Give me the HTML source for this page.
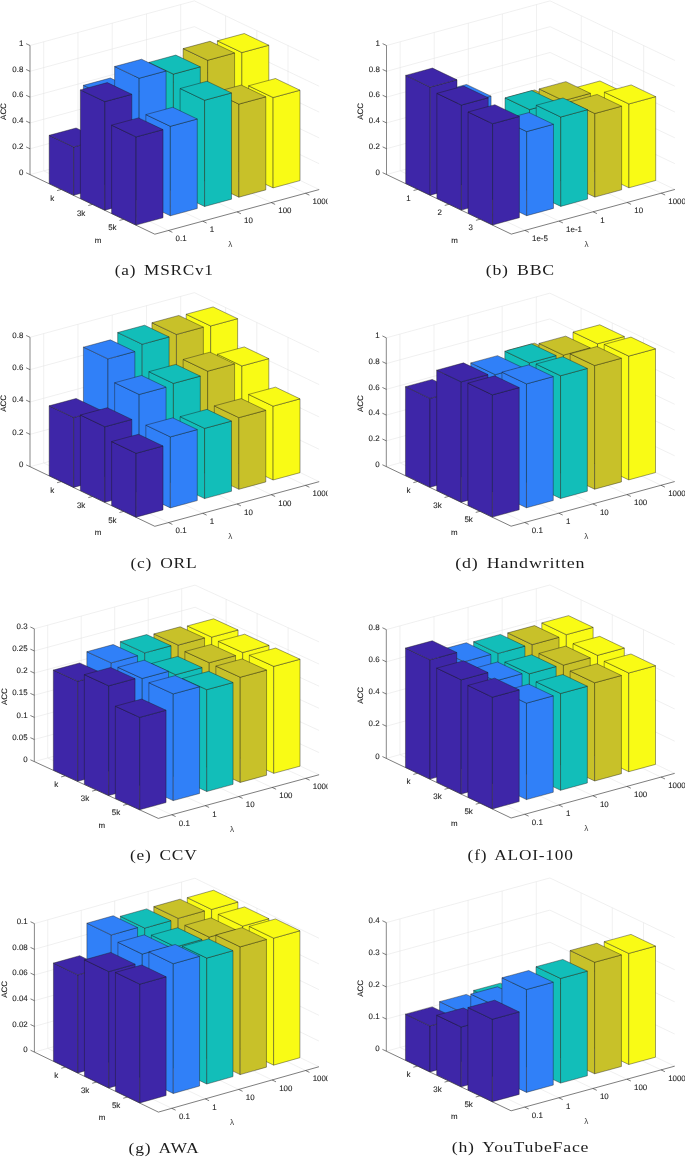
<!DOCTYPE html>
<html><head><meta charset="utf-8"><title>Figure</title>
<style>html,body{margin:0;padding:0;background:#fff}svg{display:block}</style></head>
<body><svg width="685" height="1157" viewBox="0 0 685 1157">
<defs><clipPath id="lc"><rect x="0" y="0" width="327.6" height="1157"/></clipPath></defs>
<rect width="685" height="1157" fill="#fff"/>
<g clip-path="url(#lc)"><g stroke="#e1e1e1" stroke-width="0.5"><line x1="43.7" y1="170.88" x2="168.5" y2="230.48"/><line x1="43.7" y1="170.88" x2="43.7" y2="41.78"/><line x1="77.95" y1="161.58" x2="202.75" y2="221.18"/><line x1="77.95" y1="161.58" x2="77.95" y2="32.48"/><line x1="112.2" y1="152.28" x2="237" y2="211.88"/><line x1="112.2" y1="152.28" x2="112.2" y2="23.18"/><line x1="146.45" y1="142.98" x2="271.25" y2="202.58"/><line x1="146.45" y1="142.98" x2="146.45" y2="13.88"/><line x1="180.7" y1="133.68" x2="305.5" y2="193.28"/><line x1="180.7" y1="133.68" x2="180.7" y2="4.58"/><line x1="61.2" y1="189.5" x2="225.6" y2="144.86"/><line x1="225.6" y1="144.86" x2="225.6" y2="15.76"/><line x1="92.4" y1="204.4" x2="256.8" y2="159.76"/><line x1="256.8" y1="159.76" x2="256.8" y2="30.66"/><line x1="123.6" y1="219.3" x2="288" y2="174.66"/><line x1="288" y1="174.66" x2="288" y2="45.56"/><line x1="30" y1="174.6" x2="194.4" y2="129.96"/><line x1="194.4" y1="129.96" x2="319.2" y2="189.56"/><line x1="30" y1="148.78" x2="194.4" y2="104.14"/><line x1="194.4" y1="104.14" x2="319.2" y2="163.74"/><line x1="30" y1="122.96" x2="194.4" y2="78.32"/><line x1="194.4" y1="78.32" x2="319.2" y2="137.92"/><line x1="30" y1="97.14" x2="194.4" y2="52.5"/><line x1="194.4" y1="52.5" x2="319.2" y2="112.1"/><line x1="30" y1="71.32" x2="194.4" y2="26.68"/><line x1="194.4" y1="26.68" x2="319.2" y2="86.28"/><line x1="30" y1="45.5" x2="194.4" y2="0.86"/><line x1="194.4" y1="0.86" x2="319.2" y2="60.46"/></g>
<g stroke="#262626" stroke-width="0.5"><line x1="30" y1="174.6" x2="30" y2="45.5" stroke-width="0.55"/><line x1="30" y1="174.6" x2="154.8" y2="234.2" stroke-width="0.6"/><line x1="154.8" y1="234.2" x2="319.2" y2="189.56" stroke-width="0.6"/><line x1="30" y1="174.6" x2="26.12" y2="172.75" stroke-width="0.6"/><line x1="30" y1="148.78" x2="26.12" y2="146.93" stroke-width="0.6"/><line x1="30" y1="122.96" x2="26.12" y2="121.11" stroke-width="0.6"/><line x1="30" y1="97.14" x2="26.12" y2="95.29" stroke-width="0.6"/><line x1="30" y1="71.32" x2="26.12" y2="69.47" stroke-width="0.6"/><line x1="30" y1="45.5" x2="26.12" y2="43.65" stroke-width="0.6"/><line x1="61.2" y1="189.5" x2="57.05" y2="190.63" stroke-width="0.6"/><line x1="92.4" y1="204.4" x2="88.25" y2="205.53" stroke-width="0.6"/><line x1="123.6" y1="219.3" x2="119.45" y2="220.43" stroke-width="0.6"/><line x1="168.5" y1="230.48" x2="172.38" y2="232.33" stroke-width="0.6"/><line x1="202.75" y1="221.18" x2="206.63" y2="223.03" stroke-width="0.6"/><line x1="237" y1="211.88" x2="240.88" y2="213.73" stroke-width="0.6"/><line x1="271.25" y1="202.58" x2="275.13" y2="204.43" stroke-width="0.6"/><line x1="305.5" y1="193.28" x2="309.38" y2="195.13" stroke-width="0.6"/></g>
<g stroke="#1a1a1a" stroke-width="0.42" stroke-linejoin="round"><polygon fill="#F9FB15" points="186.18,146.38 210.7,158.09 210.7,74.18 186.18,62.46"/><polygon fill="#F9FB15" points="210.7,158.09 237.62,150.78 237.62,66.87 210.7,74.18"/><polygon fill="#F9FB15" points="186.18,62.46 210.7,74.18 237.62,66.87 213.1,55.15"/><polygon fill="#C8C129" points="151.93,155.68 176.45,167.39 176.45,83.48 151.93,71.76"/><polygon fill="#C8C129" points="176.45,167.39 203.37,160.08 203.37,76.17 176.45,83.48"/><polygon fill="#C8C129" points="151.93,71.76 176.45,83.48 203.37,76.17 178.85,64.45"/><polygon fill="#12BEB9" points="117.68,164.98 142.2,176.69 142.2,92.78 117.68,81.06"/><polygon fill="#12BEB9" points="142.2,176.69 169.12,169.38 169.12,85.47 142.2,92.78"/><polygon fill="#12BEB9" points="117.68,81.06 142.2,92.78 169.12,85.47 144.6,73.75"/><polygon fill="#3080F8" points="83.43,174.28 107.95,185.99 107.95,97.04 83.43,85.33"/><polygon fill="#3080F8" points="107.95,185.99 134.87,178.68 134.87,89.73 107.95,97.04"/><polygon fill="#3080F8" points="83.43,85.33 107.95,97.04 134.87,89.73 110.35,78.02"/><polygon fill="#3E26A8" points="49.18,183.58 73.7,195.29 73.7,147.01 49.18,135.3"/><polygon fill="#3E26A8" points="73.7,195.29 100.62,187.98 100.62,139.7 73.7,147.01"/><polygon fill="#3E26A8" points="49.18,135.3 73.7,147.01 100.62,139.7 76.1,127.99"/><polygon fill="#F9FB15" points="217.38,161.28 241.9,172.99 241.9,52.54 217.38,40.83"/><polygon fill="#F9FB15" points="241.9,172.99 268.82,165.68 268.82,45.23 241.9,52.54"/><polygon fill="#F9FB15" points="217.38,40.83 241.9,52.54 268.82,45.23 244.3,33.52"/><polygon fill="#C8C129" points="183.13,170.58 207.65,182.29 207.65,60.29 183.13,48.58"/><polygon fill="#C8C129" points="207.65,182.29 234.57,174.98 234.57,52.98 207.65,60.29"/><polygon fill="#C8C129" points="183.13,48.58 207.65,60.29 234.57,52.98 210.05,41.27"/><polygon fill="#12BEB9" points="148.88,179.88 173.4,191.59 173.4,74.11 148.88,62.4"/><polygon fill="#12BEB9" points="173.4,191.59 200.32,184.28 200.32,66.8 173.4,74.11"/><polygon fill="#12BEB9" points="148.88,62.4 173.4,74.11 200.32,66.8 175.8,55.09"/><polygon fill="#3080F8" points="114.63,189.18 139.15,200.89 139.15,78.25 114.63,66.53"/><polygon fill="#3080F8" points="139.15,200.89 166.07,193.58 166.07,70.94 139.15,78.25"/><polygon fill="#3080F8" points="114.63,66.53 139.15,78.25 166.07,70.94 141.55,59.22"/><polygon fill="#3E26A8" points="80.38,198.48 104.9,210.19 104.9,101.62 80.38,89.91"/><polygon fill="#3E26A8" points="104.9,210.19 131.82,202.88 131.82,94.31 104.9,101.62"/><polygon fill="#3E26A8" points="80.38,89.91 104.9,101.62 131.82,94.31 107.3,82.6"/><polygon fill="#F9FB15" points="248.58,176.18 273.1,187.89 273.1,97.52 248.58,85.81"/><polygon fill="#F9FB15" points="273.1,187.89 300.02,180.58 300.02,90.21 273.1,97.52"/><polygon fill="#F9FB15" points="248.58,85.81 273.1,97.52 300.02,90.21 275.5,78.5"/><polygon fill="#C8C129" points="214.33,185.48 238.85,197.19 238.85,104.11 214.33,92.4"/><polygon fill="#C8C129" points="238.85,197.19 265.77,189.88 265.77,96.8 238.85,104.11"/><polygon fill="#C8C129" points="214.33,92.4 238.85,104.11 265.77,96.8 241.25,85.09"/><polygon fill="#12BEB9" points="180.08,194.78 204.6,206.49 204.6,100.24 180.08,88.53"/><polygon fill="#12BEB9" points="204.6,206.49 231.52,199.18 231.52,92.93 204.6,100.24"/><polygon fill="#12BEB9" points="180.08,88.53 204.6,100.24 231.52,92.93 207,81.22"/><polygon fill="#3080F8" points="145.83,204.08 170.35,215.79 170.35,126.32 145.83,114.61"/><polygon fill="#3080F8" points="170.35,215.79 197.27,208.48 197.27,119.01 170.35,126.32"/><polygon fill="#3080F8" points="145.83,114.61 170.35,126.32 197.27,119.01 172.75,107.3"/><polygon fill="#3E26A8" points="111.58,213.38 136.1,225.09 136.1,136.92 111.58,125.2"/><polygon fill="#3E26A8" points="136.1,225.09 163.02,217.78 163.02,129.61 136.1,136.92"/><polygon fill="#3E26A8" points="111.58,125.2 136.1,136.92 163.02,129.61 138.5,117.89"/></g>
<g font-family="'Liberation Sans',sans-serif" font-size="7.9" fill="#222" stroke="#222" stroke-width="0.1" text-rendering="geometricPrecision"><text x="23.3" y="174.8" text-anchor="end">0</text><text x="23.3" y="148.98" text-anchor="end">0.2</text><text x="23.3" y="123.16" text-anchor="end">0.4</text><text x="23.3" y="97.34" text-anchor="end">0.6</text><text x="23.3" y="71.52" text-anchor="end">0.8</text><text x="23.3" y="45.7" text-anchor="end">1</text><text x="54.1" y="200.6" text-anchor="end">k</text><text x="85.3" y="215.5" text-anchor="end">3k</text><text x="116.5" y="230.4" text-anchor="end">5k</text><text x="175.6" y="241.38" text-anchor="start">0.1</text><text x="209.85" y="232.08" text-anchor="start">1</text><text x="244.1" y="222.78" text-anchor="start">10</text><text x="278.35" y="213.48" text-anchor="start">100</text><text x="312.6" y="204.18" text-anchor="start">1000</text><text transform="translate(6.3,111.55) rotate(-90)" text-anchor="middle">ACC</text><text x="98" y="242.6" text-anchor="middle">m</text><text x="230.4" y="247.28" text-anchor="middle" font-size="8.2" fill="#444" stroke="none">λ</text></g>
<text x="114.8" y="274.9" textLength="98.9" lengthAdjust="spacingAndGlyphs" letter-spacing="0.7" word-spacing="2.6" font-family="'Liberation Serif',serif" font-size="15.6" fill="#1c1c1c">(a) MSRCv1</text></g>
<g><g stroke="#e1e1e1" stroke-width="0.5"><line x1="400.13" y1="170.78" x2="524.93" y2="230.38"/><line x1="400.13" y1="170.78" x2="400.13" y2="41.78"/><line x1="434.21" y1="161.48" x2="559.01" y2="221.08"/><line x1="434.21" y1="161.48" x2="434.21" y2="32.48"/><line x1="468.29" y1="152.18" x2="593.09" y2="211.78"/><line x1="468.29" y1="152.18" x2="468.29" y2="23.18"/><line x1="502.37" y1="142.88" x2="627.17" y2="202.48"/><line x1="502.37" y1="142.88" x2="502.37" y2="13.88"/><line x1="536.45" y1="133.58" x2="661.25" y2="193.18"/><line x1="536.45" y1="133.58" x2="536.45" y2="4.58"/><line x1="417.7" y1="189.4" x2="581.28" y2="144.76"/><line x1="581.28" y1="144.76" x2="581.28" y2="15.76"/><line x1="448.9" y1="204.3" x2="612.48" y2="159.66"/><line x1="612.48" y1="159.66" x2="612.48" y2="30.66"/><line x1="480.1" y1="219.2" x2="643.68" y2="174.56"/><line x1="643.68" y1="174.56" x2="643.68" y2="45.56"/><line x1="386.5" y1="174.5" x2="550.08" y2="129.86"/><line x1="550.08" y1="129.86" x2="674.88" y2="189.46"/><line x1="386.5" y1="148.7" x2="550.08" y2="104.06"/><line x1="550.08" y1="104.06" x2="674.88" y2="163.66"/><line x1="386.5" y1="122.9" x2="550.08" y2="78.26"/><line x1="550.08" y1="78.26" x2="674.88" y2="137.86"/><line x1="386.5" y1="97.1" x2="550.08" y2="52.46"/><line x1="550.08" y1="52.46" x2="674.88" y2="112.06"/><line x1="386.5" y1="71.3" x2="550.08" y2="26.66"/><line x1="550.08" y1="26.66" x2="674.88" y2="86.26"/><line x1="386.5" y1="45.5" x2="550.08" y2="0.86"/><line x1="550.08" y1="0.86" x2="674.88" y2="60.46"/></g>
<g stroke="#262626" stroke-width="0.5"><line x1="386.5" y1="174.5" x2="386.5" y2="45.5" stroke-width="0.55"/><line x1="386.5" y1="174.5" x2="511.3" y2="234.1" stroke-width="0.6"/><line x1="511.3" y1="234.1" x2="674.88" y2="189.46" stroke-width="0.6"/><line x1="386.5" y1="174.5" x2="382.62" y2="172.65" stroke-width="0.6"/><line x1="386.5" y1="148.7" x2="382.62" y2="146.85" stroke-width="0.6"/><line x1="386.5" y1="122.9" x2="382.62" y2="121.05" stroke-width="0.6"/><line x1="386.5" y1="97.1" x2="382.62" y2="95.25" stroke-width="0.6"/><line x1="386.5" y1="71.3" x2="382.62" y2="69.45" stroke-width="0.6"/><line x1="386.5" y1="45.5" x2="382.62" y2="43.65" stroke-width="0.6"/><line x1="417.7" y1="189.4" x2="413.55" y2="190.53" stroke-width="0.6"/><line x1="448.9" y1="204.3" x2="444.75" y2="205.43" stroke-width="0.6"/><line x1="480.1" y1="219.2" x2="475.95" y2="220.33" stroke-width="0.6"/><line x1="524.93" y1="230.38" x2="528.81" y2="232.23" stroke-width="0.6"/><line x1="559.01" y1="221.08" x2="562.89" y2="222.93" stroke-width="0.6"/><line x1="593.09" y1="211.78" x2="596.97" y2="213.63" stroke-width="0.6"/><line x1="627.17" y1="202.48" x2="631.05" y2="204.33" stroke-width="0.6"/><line x1="661.25" y1="193.18" x2="665.13" y2="195.03" stroke-width="0.6"/></g>
<g stroke="#1a1a1a" stroke-width="0.42" stroke-linejoin="round"><polygon fill="#F9FB15" points="542,146.28 566.52,157.99 566.52,103.81 542,92.1"/><polygon fill="#F9FB15" points="566.52,157.99 593.31,150.68 593.31,96.5 566.52,103.81"/><polygon fill="#F9FB15" points="542,92.1 566.52,103.81 593.31,96.5 568.78,84.79"/><polygon fill="#C8C129" points="507.92,155.58 532.44,167.29 532.44,108.98 507.92,97.27"/><polygon fill="#C8C129" points="532.44,167.29 559.23,159.98 559.23,101.67 532.44,108.98"/><polygon fill="#C8C129" points="507.92,97.27 532.44,108.98 559.23,101.67 534.7,89.96"/><polygon fill="#12BEB9" points="473.84,164.88 498.36,176.59 498.36,127.57 473.84,115.86"/><polygon fill="#12BEB9" points="498.36,176.59 525.15,169.28 525.15,120.26 498.36,127.57"/><polygon fill="#12BEB9" points="473.84,115.86 498.36,127.57 525.15,120.26 500.62,108.55"/><polygon fill="#3080F8" points="439.76,174.18 464.28,185.89 464.28,103.46 439.76,91.75"/><polygon fill="#3080F8" points="464.28,185.89 491.07,178.58 491.07,96.15 464.28,103.46"/><polygon fill="#3080F8" points="439.76,91.75 464.28,103.46 491.07,96.15 466.54,84.44"/><polygon fill="#3E26A8" points="405.68,183.48 430.2,195.19 430.2,87.09 405.68,75.38"/><polygon fill="#3E26A8" points="430.2,195.19 456.99,187.88 456.99,79.78 430.2,87.09"/><polygon fill="#3E26A8" points="405.68,75.38 430.2,87.09 456.99,79.78 432.46,68.07"/><polygon fill="#F9FB15" points="573.2,161.18 597.72,172.89 597.72,100.01 573.2,88.29"/><polygon fill="#F9FB15" points="597.72,172.89 624.51,165.58 624.51,92.7 597.72,100.01"/><polygon fill="#F9FB15" points="573.2,88.29 597.72,100.01 624.51,92.7 599.98,80.98"/><polygon fill="#C8C129" points="539.12,170.48 563.64,182.19 563.64,100.66 539.12,88.95"/><polygon fill="#C8C129" points="563.64,182.19 590.43,174.88 590.43,93.35 563.64,100.66"/><polygon fill="#C8C129" points="539.12,88.95 563.64,100.66 590.43,93.35 565.9,81.64"/><polygon fill="#12BEB9" points="505.04,179.78 529.56,191.49 529.56,109.58 505.04,97.86"/><polygon fill="#12BEB9" points="529.56,191.49 556.35,184.18 556.35,102.27 529.56,109.58"/><polygon fill="#12BEB9" points="505.04,97.86 529.56,109.58 556.35,102.27 531.82,90.55"/><polygon fill="#3080F8" points="470.96,189.08 495.48,200.79 495.48,127.26 470.96,115.55"/><polygon fill="#3080F8" points="495.48,200.79 522.27,193.48 522.27,119.95 495.48,127.26"/><polygon fill="#3080F8" points="470.96,115.55 495.48,127.26 522.27,119.95 497.74,108.24"/><polygon fill="#3E26A8" points="436.88,198.38 461.4,210.09 461.4,105.08 436.88,93.37"/><polygon fill="#3E26A8" points="461.4,210.09 488.19,202.78 488.19,97.77 461.4,105.08"/><polygon fill="#3E26A8" points="436.88,93.37 461.4,105.08 488.19,97.77 463.66,86.06"/><polygon fill="#F9FB15" points="604.4,176.08 628.92,187.79 628.92,103.94 604.4,92.23"/><polygon fill="#F9FB15" points="628.92,187.79 655.71,180.48 655.71,96.63 628.92,103.94"/><polygon fill="#F9FB15" points="604.4,92.23 628.92,103.94 655.71,96.63 631.18,84.92"/><polygon fill="#C8C129" points="570.32,185.38 594.84,197.09 594.84,113.5 570.32,101.79"/><polygon fill="#C8C129" points="594.84,197.09 621.63,189.78 621.63,106.19 594.84,113.5"/><polygon fill="#C8C129" points="570.32,101.79 594.84,113.5 621.63,106.19 597.1,94.48"/><polygon fill="#12BEB9" points="536.24,194.68 560.76,206.39 560.76,116.99 536.24,105.28"/><polygon fill="#12BEB9" points="560.76,206.39 587.55,199.08 587.55,109.68 560.76,116.99"/><polygon fill="#12BEB9" points="536.24,105.28 560.76,116.99 587.55,109.68 563.02,97.97"/><polygon fill="#3080F8" points="502.16,203.98 526.68,215.69 526.68,131.58 502.16,119.87"/><polygon fill="#3080F8" points="526.68,215.69 553.47,208.38 553.47,124.27 526.68,131.58"/><polygon fill="#3080F8" points="502.16,119.87 526.68,131.58 553.47,124.27 528.94,112.56"/><polygon fill="#3E26A8" points="468.08,213.28 492.6,224.99 492.6,123.73 468.08,112.01"/><polygon fill="#3E26A8" points="492.6,224.99 519.39,217.68 519.39,116.42 492.6,123.73"/><polygon fill="#3E26A8" points="468.08,112.01 492.6,123.73 519.39,116.42 494.86,104.7"/></g>
<g font-family="'Liberation Sans',sans-serif" font-size="7.9" fill="#222" stroke="#222" stroke-width="0.1" text-rendering="geometricPrecision"><text x="379.8" y="174.7" text-anchor="end">0</text><text x="379.8" y="148.9" text-anchor="end">0.2</text><text x="379.8" y="123.1" text-anchor="end">0.4</text><text x="379.8" y="97.3" text-anchor="end">0.6</text><text x="379.8" y="71.5" text-anchor="end">0.8</text><text x="379.8" y="45.7" text-anchor="end">1</text><text x="410.6" y="200.5" text-anchor="end">1</text><text x="441.8" y="215.4" text-anchor="end">2</text><text x="473" y="230.3" text-anchor="end">3</text><text x="532.03" y="241.28" text-anchor="start">1e-5</text><text x="566.11" y="231.98" text-anchor="start">1e-1</text><text x="600.19" y="222.68" text-anchor="start">1</text><text x="634.27" y="213.38" text-anchor="start">10</text><text x="668.35" y="204.08" text-anchor="start">1000</text><text transform="translate(362.8,111.5) rotate(-90)" text-anchor="middle">ACC</text><text x="454.5" y="242.5" text-anchor="middle">m</text><text x="586.49" y="247.18" text-anchor="middle" font-size="8.2" fill="#444" stroke="none">λ</text></g>
<text x="485.7" y="274.9" textLength="69.3" lengthAdjust="spacingAndGlyphs" letter-spacing="0.7" word-spacing="2.6" font-family="'Liberation Serif',serif" font-size="15.6" fill="#1c1c1c">(b) BBC</text></g>
<g clip-path="url(#lc)"><g stroke="#e1e1e1" stroke-width="0.5"><line x1="43.7" y1="462.98" x2="168.5" y2="522.58"/><line x1="43.7" y1="462.98" x2="43.7" y2="333.58"/><line x1="77.95" y1="453.68" x2="202.75" y2="513.28"/><line x1="77.95" y1="453.68" x2="77.95" y2="324.28"/><line x1="112.2" y1="444.38" x2="237" y2="503.98"/><line x1="112.2" y1="444.38" x2="112.2" y2="314.98"/><line x1="146.45" y1="435.08" x2="271.25" y2="494.68"/><line x1="146.45" y1="435.08" x2="146.45" y2="305.68"/><line x1="180.7" y1="425.78" x2="305.5" y2="485.38"/><line x1="180.7" y1="425.78" x2="180.7" y2="296.38"/><line x1="61.2" y1="481.6" x2="225.6" y2="436.96"/><line x1="225.6" y1="436.96" x2="225.6" y2="307.56"/><line x1="92.4" y1="496.5" x2="256.8" y2="451.86"/><line x1="256.8" y1="451.86" x2="256.8" y2="322.46"/><line x1="123.6" y1="511.4" x2="288" y2="466.76"/><line x1="288" y1="466.76" x2="288" y2="337.36"/><line x1="30" y1="466.7" x2="194.4" y2="422.06"/><line x1="194.4" y1="422.06" x2="319.2" y2="481.66"/><line x1="30" y1="434.35" x2="194.4" y2="389.71"/><line x1="194.4" y1="389.71" x2="319.2" y2="449.31"/><line x1="30" y1="402" x2="194.4" y2="357.36"/><line x1="194.4" y1="357.36" x2="319.2" y2="416.96"/><line x1="30" y1="369.65" x2="194.4" y2="325.01"/><line x1="194.4" y1="325.01" x2="319.2" y2="384.61"/><line x1="30" y1="337.3" x2="194.4" y2="292.66"/><line x1="194.4" y1="292.66" x2="319.2" y2="352.26"/></g>
<g stroke="#262626" stroke-width="0.5"><line x1="30" y1="466.7" x2="30" y2="337.3" stroke-width="0.55"/><line x1="30" y1="466.7" x2="154.8" y2="526.3" stroke-width="0.6"/><line x1="154.8" y1="526.3" x2="319.2" y2="481.66" stroke-width="0.6"/><line x1="30" y1="466.7" x2="26.12" y2="464.85" stroke-width="0.6"/><line x1="30" y1="434.35" x2="26.12" y2="432.5" stroke-width="0.6"/><line x1="30" y1="402" x2="26.12" y2="400.15" stroke-width="0.6"/><line x1="30" y1="369.65" x2="26.12" y2="367.8" stroke-width="0.6"/><line x1="30" y1="337.3" x2="26.12" y2="335.45" stroke-width="0.6"/><line x1="61.2" y1="481.6" x2="57.05" y2="482.73" stroke-width="0.6"/><line x1="92.4" y1="496.5" x2="88.25" y2="497.63" stroke-width="0.6"/><line x1="123.6" y1="511.4" x2="119.45" y2="512.53" stroke-width="0.6"/><line x1="168.5" y1="522.58" x2="172.38" y2="524.43" stroke-width="0.6"/><line x1="202.75" y1="513.28" x2="206.63" y2="515.13" stroke-width="0.6"/><line x1="237" y1="503.98" x2="240.88" y2="505.83" stroke-width="0.6"/><line x1="271.25" y1="494.68" x2="275.13" y2="496.53" stroke-width="0.6"/><line x1="305.5" y1="485.38" x2="309.38" y2="487.23" stroke-width="0.6"/></g>
<g stroke="#1a1a1a" stroke-width="0.42" stroke-linejoin="round"><polygon fill="#F9FB15" points="186.18,438.48 210.7,450.19 210.7,325.97 186.18,314.26"/><polygon fill="#F9FB15" points="210.7,450.19 237.62,442.88 237.62,318.66 210.7,325.97"/><polygon fill="#F9FB15" points="186.18,314.26 210.7,325.97 237.62,318.66 213.1,306.95"/><polygon fill="#C8C129" points="151.93,447.78 176.45,459.49 176.45,334.46 151.93,322.75"/><polygon fill="#C8C129" points="176.45,459.49 203.37,452.18 203.37,327.15 176.45,334.46"/><polygon fill="#C8C129" points="151.93,322.75 176.45,334.46 203.37,327.15 178.85,315.44"/><polygon fill="#12BEB9" points="117.68,457.08 142.2,468.79 142.2,344.24 117.68,332.53"/><polygon fill="#12BEB9" points="142.2,468.79 169.12,461.48 169.12,336.93 142.2,344.24"/><polygon fill="#12BEB9" points="117.68,332.53 142.2,344.24 169.12,336.93 144.6,325.22"/><polygon fill="#3080F8" points="83.43,466.38 107.95,478.09 107.95,358.88 83.43,347.17"/><polygon fill="#3080F8" points="107.95,478.09 134.87,470.78 134.87,351.57 107.95,358.88"/><polygon fill="#3080F8" points="83.43,347.17 107.95,358.88 134.87,351.57 110.35,339.86"/><polygon fill="#3E26A8" points="49.18,475.68 73.7,487.39 73.7,417.51 49.18,405.8"/><polygon fill="#3E26A8" points="73.7,487.39 100.62,480.08 100.62,410.2 73.7,417.51"/><polygon fill="#3E26A8" points="49.18,405.8 73.7,417.51 100.62,410.2 76.1,398.49"/><polygon fill="#F9FB15" points="217.38,453.38 241.9,465.09 241.9,365.94 217.38,354.23"/><polygon fill="#F9FB15" points="241.9,465.09 268.82,457.78 268.82,358.63 241.9,365.94"/><polygon fill="#F9FB15" points="217.38,354.23 241.9,365.94 268.82,358.63 244.3,346.92"/><polygon fill="#C8C129" points="183.13,462.68 207.65,474.39 207.65,371.19 183.13,359.48"/><polygon fill="#C8C129" points="207.65,474.39 234.57,467.08 234.57,363.88 207.65,371.19"/><polygon fill="#C8C129" points="183.13,359.48 207.65,371.19 234.57,363.88 210.05,352.17"/><polygon fill="#12BEB9" points="148.88,471.98 173.4,483.69 173.4,383.41 148.88,371.69"/><polygon fill="#12BEB9" points="173.4,483.69 200.32,476.38 200.32,376.1 173.4,383.41"/><polygon fill="#12BEB9" points="148.88,371.69 173.4,383.41 200.32,376.1 175.8,364.38"/><polygon fill="#3080F8" points="114.63,481.28 139.15,492.99 139.15,394.48 114.63,382.77"/><polygon fill="#3080F8" points="139.15,492.99 166.07,485.68 166.07,387.18 139.15,394.48"/><polygon fill="#3080F8" points="114.63,382.77 139.15,394.48 166.07,387.18 141.55,375.46"/><polygon fill="#3E26A8" points="80.38,490.58 104.9,502.29 104.9,426.75 80.38,415.04"/><polygon fill="#3E26A8" points="104.9,502.29 131.82,494.98 131.82,419.44 104.9,426.75"/><polygon fill="#3E26A8" points="80.38,415.04 104.9,426.75 131.82,419.44 107.3,407.73"/><polygon fill="#F9FB15" points="248.58,468.28 273.1,479.99 273.1,406.15 248.58,394.44"/><polygon fill="#F9FB15" points="273.1,479.99 300.02,472.68 300.02,398.84 273.1,406.15"/><polygon fill="#F9FB15" points="248.58,394.44 273.1,406.15 300.02,398.84 275.5,387.13"/><polygon fill="#C8C129" points="214.33,477.58 238.85,489.29 238.85,417.64 214.33,405.92"/><polygon fill="#C8C129" points="238.85,489.29 265.77,481.98 265.77,410.33 238.85,417.64"/><polygon fill="#C8C129" points="214.33,405.92 238.85,417.64 265.77,410.33 241.25,398.61"/><polygon fill="#12BEB9" points="180.08,486.88 204.6,498.59 204.6,428.39 180.08,416.68"/><polygon fill="#12BEB9" points="204.6,498.59 231.52,491.28 231.52,421.08 204.6,428.39"/><polygon fill="#12BEB9" points="180.08,416.68 204.6,428.39 231.52,421.08 207,409.37"/><polygon fill="#3080F8" points="145.83,496.18 170.35,507.89 170.35,436.88 145.83,425.17"/><polygon fill="#3080F8" points="170.35,507.89 197.27,500.58 197.27,429.57 170.35,436.88"/><polygon fill="#3080F8" points="145.83,425.17 170.35,436.88 197.27,429.57 172.75,417.86"/><polygon fill="#3E26A8" points="111.58,505.48 136.1,517.19 136.1,453.3 111.58,441.59"/><polygon fill="#3E26A8" points="136.1,517.19 163.02,509.88 163.02,445.99 136.1,453.3"/><polygon fill="#3E26A8" points="111.58,441.59 136.1,453.3 163.02,445.99 138.5,434.28"/></g>
<g font-family="'Liberation Sans',sans-serif" font-size="7.9" fill="#222" stroke="#222" stroke-width="0.1" text-rendering="geometricPrecision"><text x="23.3" y="466.9" text-anchor="end">0</text><text x="23.3" y="434.55" text-anchor="end">0.2</text><text x="23.3" y="402.2" text-anchor="end">0.4</text><text x="23.3" y="369.85" text-anchor="end">0.6</text><text x="23.3" y="337.5" text-anchor="end">0.8</text><text x="54.1" y="492.7" text-anchor="end">k</text><text x="85.3" y="507.6" text-anchor="end">3k</text><text x="116.5" y="522.5" text-anchor="end">5k</text><text x="175.6" y="533.48" text-anchor="start">0.1</text><text x="209.85" y="524.18" text-anchor="start">1</text><text x="244.1" y="514.88" text-anchor="start">10</text><text x="278.35" y="505.58" text-anchor="start">100</text><text x="312.6" y="496.28" text-anchor="start">1000</text><text transform="translate(6.3,403.5) rotate(-90)" text-anchor="middle">ACC</text><text x="98" y="534.7" text-anchor="middle">m</text><text x="230.4" y="539.38" text-anchor="middle" font-size="8.2" fill="#444" stroke="none">λ</text></g>
<text x="130.4" y="567.5" textLength="67.1" lengthAdjust="spacingAndGlyphs" letter-spacing="0.7" word-spacing="2.6" font-family="'Liberation Serif',serif" font-size="15.6" fill="#1c1c1c">(c) ORL</text></g>
<g><g stroke="#e1e1e1" stroke-width="0.5"><line x1="399.93" y1="462.88" x2="524.73" y2="522.48"/><line x1="399.93" y1="462.88" x2="399.93" y2="334.08"/><line x1="434.01" y1="453.58" x2="558.81" y2="513.18"/><line x1="434.01" y1="453.58" x2="434.01" y2="324.78"/><line x1="468.09" y1="444.28" x2="592.89" y2="503.88"/><line x1="468.09" y1="444.28" x2="468.09" y2="315.48"/><line x1="502.17" y1="434.98" x2="626.97" y2="494.58"/><line x1="502.17" y1="434.98" x2="502.17" y2="306.18"/><line x1="536.25" y1="425.68" x2="661.05" y2="485.28"/><line x1="536.25" y1="425.68" x2="536.25" y2="296.88"/><line x1="417.5" y1="481.5" x2="581.08" y2="436.86"/><line x1="581.08" y1="436.86" x2="581.08" y2="308.06"/><line x1="448.7" y1="496.4" x2="612.28" y2="451.76"/><line x1="612.28" y1="451.76" x2="612.28" y2="322.96"/><line x1="479.9" y1="511.3" x2="643.48" y2="466.66"/><line x1="643.48" y1="466.66" x2="643.48" y2="337.86"/><line x1="386.3" y1="466.6" x2="549.88" y2="421.96"/><line x1="549.88" y1="421.96" x2="674.68" y2="481.56"/><line x1="386.3" y1="440.84" x2="549.88" y2="396.2"/><line x1="549.88" y1="396.2" x2="674.68" y2="455.8"/><line x1="386.3" y1="415.08" x2="549.88" y2="370.44"/><line x1="549.88" y1="370.44" x2="674.68" y2="430.04"/><line x1="386.3" y1="389.32" x2="549.88" y2="344.68"/><line x1="549.88" y1="344.68" x2="674.68" y2="404.28"/><line x1="386.3" y1="363.56" x2="549.88" y2="318.92"/><line x1="549.88" y1="318.92" x2="674.68" y2="378.52"/><line x1="386.3" y1="337.8" x2="549.88" y2="293.16"/><line x1="549.88" y1="293.16" x2="674.68" y2="352.76"/></g>
<g stroke="#262626" stroke-width="0.5"><line x1="386.3" y1="466.6" x2="386.3" y2="337.8" stroke-width="0.55"/><line x1="386.3" y1="466.6" x2="511.1" y2="526.2" stroke-width="0.6"/><line x1="511.1" y1="526.2" x2="674.68" y2="481.56" stroke-width="0.6"/><line x1="386.3" y1="466.6" x2="382.42" y2="464.75" stroke-width="0.6"/><line x1="386.3" y1="440.84" x2="382.42" y2="438.99" stroke-width="0.6"/><line x1="386.3" y1="415.08" x2="382.42" y2="413.23" stroke-width="0.6"/><line x1="386.3" y1="389.32" x2="382.42" y2="387.47" stroke-width="0.6"/><line x1="386.3" y1="363.56" x2="382.42" y2="361.71" stroke-width="0.6"/><line x1="386.3" y1="337.8" x2="382.42" y2="335.95" stroke-width="0.6"/><line x1="417.5" y1="481.5" x2="413.35" y2="482.63" stroke-width="0.6"/><line x1="448.7" y1="496.4" x2="444.55" y2="497.53" stroke-width="0.6"/><line x1="479.9" y1="511.3" x2="475.75" y2="512.43" stroke-width="0.6"/><line x1="524.73" y1="522.48" x2="528.61" y2="524.33" stroke-width="0.6"/><line x1="558.81" y1="513.18" x2="562.69" y2="515.03" stroke-width="0.6"/><line x1="592.89" y1="503.88" x2="596.77" y2="505.73" stroke-width="0.6"/><line x1="626.97" y1="494.58" x2="630.85" y2="496.43" stroke-width="0.6"/><line x1="661.05" y1="485.28" x2="664.93" y2="487.13" stroke-width="0.6"/></g>
<g stroke="#1a1a1a" stroke-width="0.42" stroke-linejoin="round"><polygon fill="#F9FB15" points="541.8,438.38 566.32,450.09 566.32,359.93 541.8,348.22"/><polygon fill="#F9FB15" points="566.32,450.09 593.11,442.78 593.11,352.62 566.32,359.93"/><polygon fill="#F9FB15" points="541.8,348.22 566.32,359.93 593.11,352.62 568.58,340.91"/><polygon fill="#C8C129" points="507.72,447.68 532.24,459.39 532.24,362.15 507.72,350.44"/><polygon fill="#C8C129" points="532.24,459.39 559.03,452.08 559.03,354.84 532.24,362.15"/><polygon fill="#C8C129" points="507.72,350.44 532.24,362.15 559.03,354.84 534.5,343.13"/><polygon fill="#12BEB9" points="473.64,456.98 498.16,468.69 498.16,378.53 473.64,366.82"/><polygon fill="#12BEB9" points="498.16,468.69 524.95,461.38 524.95,371.22 498.16,378.53"/><polygon fill="#12BEB9" points="473.64,366.82 498.16,378.53 524.95,371.22 500.42,359.51"/><polygon fill="#3080F8" points="439.56,466.28 464.08,477.99 464.08,387.83 439.56,376.12"/><polygon fill="#3080F8" points="464.08,477.99 490.87,470.68 490.87,380.52 464.08,387.83"/><polygon fill="#3080F8" points="439.56,376.12 464.08,387.83 490.87,380.52 466.34,368.81"/><polygon fill="#3E26A8" points="405.48,475.58 430,487.29 430,398.42 405.48,386.71"/><polygon fill="#3E26A8" points="430,487.29 456.79,479.98 456.79,391.11 430,398.42"/><polygon fill="#3E26A8" points="405.48,386.71 430,398.42 456.79,391.11 432.26,379.4"/><polygon fill="#F9FB15" points="573,453.28 597.52,464.99 597.52,343.79 573,332.08"/><polygon fill="#F9FB15" points="597.52,464.99 624.31,457.68 624.31,336.48 597.52,343.79"/><polygon fill="#F9FB15" points="573,332.08 597.52,343.79 624.31,336.48 599.78,324.77"/><polygon fill="#C8C129" points="538.92,462.58 563.44,474.29 563.44,355.15 538.92,343.44"/><polygon fill="#C8C129" points="563.44,474.29 590.23,466.98 590.23,347.84 563.44,355.15"/><polygon fill="#C8C129" points="538.92,343.44 563.44,355.15 590.23,347.84 565.7,336.13"/><polygon fill="#12BEB9" points="504.84,471.88 529.36,483.59 529.36,362.9 504.84,351.19"/><polygon fill="#12BEB9" points="529.36,483.59 556.15,476.28 556.15,355.6 529.36,362.9"/><polygon fill="#12BEB9" points="504.84,351.19 529.36,362.9 556.15,355.6 531.62,343.88"/><polygon fill="#3080F8" points="470.76,481.18 495.28,492.89 495.28,374.65 470.76,362.94"/><polygon fill="#3080F8" points="495.28,492.89 522.07,485.58 522.07,367.34 495.28,374.65"/><polygon fill="#3080F8" points="470.76,362.94 495.28,374.65 522.07,367.34 497.54,355.63"/><polygon fill="#3E26A8" points="436.68,490.48 461.2,502.19 461.2,381.89 436.68,370.18"/><polygon fill="#3E26A8" points="461.2,502.19 487.99,494.88 487.99,374.58 461.2,381.89"/><polygon fill="#3E26A8" points="436.68,370.18 461.2,381.89 487.99,374.58 463.46,362.87"/><polygon fill="#F9FB15" points="604.2,468.18 628.72,479.89 628.72,356.11 604.2,344.4"/><polygon fill="#F9FB15" points="628.72,479.89 655.51,472.58 655.51,348.8 628.72,356.11"/><polygon fill="#F9FB15" points="604.2,344.4 628.72,356.11 655.51,348.8 630.98,337.09"/><polygon fill="#C8C129" points="570.12,477.48 594.64,489.19 594.64,365.54 570.12,353.83"/><polygon fill="#C8C129" points="594.64,489.19 621.43,481.88 621.43,358.23 594.64,365.54"/><polygon fill="#C8C129" points="570.12,353.83 594.64,365.54 621.43,358.23 596.9,346.52"/><polygon fill="#12BEB9" points="536.04,486.78 560.56,498.49 560.56,375.74 536.04,364.03"/><polygon fill="#12BEB9" points="560.56,498.49 587.35,491.18 587.35,368.43 560.56,375.74"/><polygon fill="#12BEB9" points="536.04,364.03 560.56,375.74 587.35,368.43 562.82,356.72"/><polygon fill="#3080F8" points="501.96,496.08 526.48,507.79 526.48,383.89 501.96,372.17"/><polygon fill="#3080F8" points="526.48,507.79 553.27,500.48 553.27,376.58 526.48,383.89"/><polygon fill="#3080F8" points="501.96,372.17 526.48,383.89 553.27,376.58 528.74,364.86"/><polygon fill="#3E26A8" points="467.88,505.38 492.4,517.09 492.4,394.86 467.88,383.15"/><polygon fill="#3E26A8" points="492.4,517.09 519.19,509.78 519.19,387.55 492.4,394.86"/><polygon fill="#3E26A8" points="467.88,383.15 492.4,394.86 519.19,387.55 494.66,375.84"/></g>
<g font-family="'Liberation Sans',sans-serif" font-size="7.9" fill="#222" stroke="#222" stroke-width="0.1" text-rendering="geometricPrecision"><text x="379.6" y="466.8" text-anchor="end">0</text><text x="379.6" y="441.04" text-anchor="end">0.2</text><text x="379.6" y="415.28" text-anchor="end">0.4</text><text x="379.6" y="389.52" text-anchor="end">0.6</text><text x="379.6" y="363.76" text-anchor="end">0.8</text><text x="379.6" y="338" text-anchor="end">1</text><text x="410.4" y="492.6" text-anchor="end">k</text><text x="441.6" y="507.5" text-anchor="end">3k</text><text x="472.8" y="522.4" text-anchor="end">5k</text><text x="531.83" y="533.38" text-anchor="start">0.1</text><text x="565.91" y="524.08" text-anchor="start">1</text><text x="599.99" y="514.78" text-anchor="start">10</text><text x="634.07" y="505.48" text-anchor="start">100</text><text x="668.15" y="496.18" text-anchor="start">1000</text><text transform="translate(362.6,403.7) rotate(-90)" text-anchor="middle">ACC</text><text x="454.3" y="534.6" text-anchor="middle">m</text><text x="586.29" y="539.28" text-anchor="middle" font-size="8.2" fill="#444" stroke="none">λ</text></g>
<text x="455.2" y="567.9" textLength="130.2" lengthAdjust="spacingAndGlyphs" letter-spacing="0.7" word-spacing="2.6" font-family="'Liberation Serif',serif" font-size="15.6" fill="#1c1c1c">(d) Handwritten</text></g>
<g clip-path="url(#lc)"><g stroke="#e1e1e1" stroke-width="0.5"><line x1="47.7" y1="757.96" x2="171.7" y2="814.76"/><line x1="47.7" y1="757.96" x2="47.7" y2="625.16"/><line x1="81.2" y1="748.86" x2="205.2" y2="805.66"/><line x1="81.2" y1="748.86" x2="81.2" y2="616.06"/><line x1="114.7" y1="739.76" x2="238.7" y2="796.56"/><line x1="114.7" y1="739.76" x2="114.7" y2="606.96"/><line x1="148.2" y1="730.66" x2="272.2" y2="787.46"/><line x1="148.2" y1="730.66" x2="148.2" y2="597.86"/><line x1="181.7" y1="721.56" x2="305.7" y2="778.36"/><line x1="181.7" y1="721.56" x2="181.7" y2="588.76"/><line x1="65.3" y1="775.8" x2="226.1" y2="732.12"/><line x1="226.1" y1="732.12" x2="226.1" y2="599.32"/><line x1="96.3" y1="790" x2="257.1" y2="746.32"/><line x1="257.1" y1="746.32" x2="257.1" y2="613.52"/><line x1="127.3" y1="804.2" x2="288.1" y2="760.52"/><line x1="288.1" y1="760.52" x2="288.1" y2="627.72"/><line x1="34.3" y1="761.6" x2="195.1" y2="717.92"/><line x1="195.1" y1="717.92" x2="319.1" y2="774.72"/><line x1="34.3" y1="739.47" x2="195.1" y2="695.79"/><line x1="195.1" y1="695.79" x2="319.1" y2="752.59"/><line x1="34.3" y1="717.33" x2="195.1" y2="673.65"/><line x1="195.1" y1="673.65" x2="319.1" y2="730.45"/><line x1="34.3" y1="695.2" x2="195.1" y2="651.52"/><line x1="195.1" y1="651.52" x2="319.1" y2="708.32"/><line x1="34.3" y1="673.07" x2="195.1" y2="629.39"/><line x1="195.1" y1="629.39" x2="319.1" y2="686.19"/><line x1="34.3" y1="650.93" x2="195.1" y2="607.25"/><line x1="195.1" y1="607.25" x2="319.1" y2="664.05"/><line x1="34.3" y1="628.8" x2="195.1" y2="585.12"/><line x1="195.1" y1="585.12" x2="319.1" y2="641.92"/></g>
<g stroke="#262626" stroke-width="0.5"><line x1="34.3" y1="761.6" x2="34.3" y2="628.8" stroke-width="0.55"/><line x1="34.3" y1="761.6" x2="158.3" y2="818.4" stroke-width="0.6"/><line x1="158.3" y1="818.4" x2="319.1" y2="774.72" stroke-width="0.6"/><line x1="34.3" y1="761.6" x2="30.39" y2="759.81" stroke-width="0.6"/><line x1="34.3" y1="739.47" x2="30.39" y2="737.68" stroke-width="0.6"/><line x1="34.3" y1="717.33" x2="30.39" y2="715.54" stroke-width="0.6"/><line x1="34.3" y1="695.2" x2="30.39" y2="693.41" stroke-width="0.6"/><line x1="34.3" y1="673.07" x2="30.39" y2="671.28" stroke-width="0.6"/><line x1="34.3" y1="650.93" x2="30.39" y2="649.14" stroke-width="0.6"/><line x1="34.3" y1="628.8" x2="30.39" y2="627.01" stroke-width="0.6"/><line x1="65.3" y1="775.8" x2="61.15" y2="776.93" stroke-width="0.6"/><line x1="96.3" y1="790" x2="92.15" y2="791.13" stroke-width="0.6"/><line x1="127.3" y1="804.2" x2="123.15" y2="805.33" stroke-width="0.6"/><line x1="171.7" y1="814.76" x2="175.61" y2="816.55" stroke-width="0.6"/><line x1="205.2" y1="805.66" x2="209.11" y2="807.45" stroke-width="0.6"/><line x1="238.7" y1="796.56" x2="242.61" y2="798.35" stroke-width="0.6"/><line x1="272.2" y1="787.46" x2="276.11" y2="789.25" stroke-width="0.6"/><line x1="305.7" y1="778.36" x2="309.61" y2="780.15" stroke-width="0.6"/></g>
<g stroke="#1a1a1a" stroke-width="0.42" stroke-linejoin="round"><polygon fill="#F9FB15" points="187.35,733.76 211.72,744.92 211.72,637.13 187.35,625.97"/><polygon fill="#F9FB15" points="211.72,744.92 238.05,737.76 238.05,629.97 211.72,637.13"/><polygon fill="#F9FB15" points="187.35,625.97 211.72,637.13 238.05,629.97 213.68,618.81"/><polygon fill="#C8C129" points="153.85,742.86 178.22,754.02 178.22,645.12 153.85,633.96"/><polygon fill="#C8C129" points="178.22,754.02 204.55,746.86 204.55,637.97 178.22,645.12"/><polygon fill="#C8C129" points="153.85,633.96 178.22,645.12 204.55,637.97 180.18,626.81"/><polygon fill="#12BEB9" points="120.35,751.96 144.72,763.12 144.72,652.89 120.35,641.73"/><polygon fill="#12BEB9" points="144.72,763.12 171.05,755.96 171.05,645.74 144.72,652.89"/><polygon fill="#12BEB9" points="120.35,641.73 144.72,652.89 171.05,645.74 146.68,634.58"/><polygon fill="#3080F8" points="86.85,761.06 111.22,772.22 111.22,662.88 86.85,651.72"/><polygon fill="#3080F8" points="111.22,772.22 137.55,765.06 137.55,655.73 111.22,662.88"/><polygon fill="#3080F8" points="86.85,651.72 111.22,662.88 137.55,655.73 113.18,644.56"/><polygon fill="#3E26A8" points="53.35,770.16 77.72,781.32 77.72,681.27 53.35,670.11"/><polygon fill="#3E26A8" points="77.72,781.32 104.05,774.16 104.05,674.12 77.72,681.27"/><polygon fill="#3E26A8" points="53.35,670.11 77.72,681.27 104.05,674.12 79.68,662.96"/><polygon fill="#F9FB15" points="218.35,747.96 242.72,759.12 242.72,652.52 218.35,641.36"/><polygon fill="#F9FB15" points="242.72,759.12 269.05,751.96 269.05,645.37 242.72,652.52"/><polygon fill="#F9FB15" points="218.35,641.36 242.72,652.52 269.05,645.37 244.68,634.21"/><polygon fill="#C8C129" points="184.85,757.06 209.22,768.22 209.22,662.73 184.85,651.57"/><polygon fill="#C8C129" points="209.22,768.22 235.55,761.06 235.55,655.58 209.22,662.73"/><polygon fill="#C8C129" points="184.85,651.57 209.22,662.73 235.55,655.58 211.18,644.42"/><polygon fill="#12BEB9" points="151.35,766.16 175.72,777.32 175.72,674.71 151.35,663.55"/><polygon fill="#12BEB9" points="175.72,777.32 202.05,770.16 202.05,667.55 175.72,674.71"/><polygon fill="#12BEB9" points="151.35,663.55 175.72,674.71 202.05,667.55 177.68,656.39"/><polygon fill="#3080F8" points="117.85,775.26 142.22,786.42 142.22,678.49 117.85,667.33"/><polygon fill="#3080F8" points="142.22,786.42 168.55,779.26 168.55,671.34 142.22,678.49"/><polygon fill="#3080F8" points="117.85,667.33 142.22,678.49 168.55,671.34 144.18,660.18"/><polygon fill="#3E26A8" points="84.35,784.36 108.72,795.52 108.72,685.82 84.35,674.66"/><polygon fill="#3E26A8" points="108.72,795.52 135.05,788.36 135.05,678.67 108.72,685.82"/><polygon fill="#3E26A8" points="84.35,674.66 108.72,685.82 135.05,678.67 110.68,667.51"/><polygon fill="#F9FB15" points="249.35,762.16 273.72,773.32 273.72,666.37 249.35,655.21"/><polygon fill="#F9FB15" points="273.72,773.32 300.05,766.16 300.05,659.22 273.72,666.37"/><polygon fill="#F9FB15" points="249.35,655.21 273.72,666.37 300.05,659.22 275.68,648.05"/><polygon fill="#C8C129" points="215.85,771.26 240.22,782.42 240.22,677.24 215.85,666.08"/><polygon fill="#C8C129" points="240.22,782.42 266.55,775.26 266.55,670.09 240.22,677.24"/><polygon fill="#C8C129" points="215.85,666.08 240.22,677.24 266.55,670.09 242.18,658.93"/><polygon fill="#12BEB9" points="182.35,780.36 206.72,791.52 206.72,689.66 182.35,678.5"/><polygon fill="#12BEB9" points="206.72,791.52 233.05,784.36 233.05,682.51 206.72,689.66"/><polygon fill="#12BEB9" points="182.35,678.5 206.72,689.66 233.05,682.51 208.68,671.35"/><polygon fill="#3080F8" points="148.85,789.46 173.22,800.62 173.22,693.89 148.85,682.73"/><polygon fill="#3080F8" points="173.22,800.62 199.55,793.46 199.55,686.74 173.22,693.89"/><polygon fill="#3080F8" points="148.85,682.73 173.22,693.89 199.55,686.74 175.18,675.58"/><polygon fill="#3E26A8" points="115.35,798.56 139.72,809.72 139.72,717.38 115.35,706.22"/><polygon fill="#3E26A8" points="139.72,809.72 166.05,802.56 166.05,710.22 139.72,717.38"/><polygon fill="#3E26A8" points="115.35,706.22 139.72,717.38 166.05,710.22 141.68,699.06"/></g>
<g font-family="'Liberation Sans',sans-serif" font-size="7.9" fill="#222" stroke="#222" stroke-width="0.1" text-rendering="geometricPrecision"><text x="27.6" y="761.8" text-anchor="end">0</text><text x="27.6" y="739.67" text-anchor="end">0.05</text><text x="27.6" y="717.53" text-anchor="end">0.1</text><text x="27.6" y="695.4" text-anchor="end">0.15</text><text x="27.6" y="673.27" text-anchor="end">0.2</text><text x="27.6" y="651.13" text-anchor="end">0.25</text><text x="27.6" y="629" text-anchor="end">0.3</text><text x="58.2" y="786.9" text-anchor="end">k</text><text x="89.2" y="801.1" text-anchor="end">3k</text><text x="120.2" y="815.3" text-anchor="end">5k</text><text x="178.8" y="825.66" text-anchor="start">0.1</text><text x="212.3" y="816.56" text-anchor="start">1</text><text x="245.8" y="807.46" text-anchor="start">10</text><text x="279.3" y="798.36" text-anchor="start">100</text><text x="312.8" y="789.26" text-anchor="start">1000</text><text transform="translate(7.3,696.7) rotate(-90)" text-anchor="middle">ACC</text><text x="101.9" y="828.2" text-anchor="middle">m</text><text x="232.1" y="831.96" text-anchor="middle" font-size="8.2" fill="#444" stroke="none">λ</text></g>
<text x="130" y="859.5" textLength="67.5" lengthAdjust="spacingAndGlyphs" letter-spacing="0.7" word-spacing="2.6" font-family="'Liberation Serif',serif" font-size="15.6" fill="#1c1c1c">(e) CCV</text></g>
<g><g stroke="#e1e1e1" stroke-width="0.5"><line x1="399.93" y1="754.68" x2="524.73" y2="814.28"/><line x1="399.93" y1="754.68" x2="399.93" y2="625.88"/><line x1="434.01" y1="745.38" x2="558.81" y2="804.98"/><line x1="434.01" y1="745.38" x2="434.01" y2="616.58"/><line x1="468.09" y1="736.08" x2="592.89" y2="795.68"/><line x1="468.09" y1="736.08" x2="468.09" y2="607.28"/><line x1="502.17" y1="726.78" x2="626.97" y2="786.38"/><line x1="502.17" y1="726.78" x2="502.17" y2="597.98"/><line x1="536.25" y1="717.48" x2="661.05" y2="777.08"/><line x1="536.25" y1="717.48" x2="536.25" y2="588.68"/><line x1="417.5" y1="773.3" x2="581.08" y2="728.66"/><line x1="581.08" y1="728.66" x2="581.08" y2="599.86"/><line x1="448.7" y1="788.2" x2="612.28" y2="743.56"/><line x1="612.28" y1="743.56" x2="612.28" y2="614.76"/><line x1="479.9" y1="803.1" x2="643.48" y2="758.46"/><line x1="643.48" y1="758.46" x2="643.48" y2="629.66"/><line x1="386.3" y1="758.4" x2="549.88" y2="713.76"/><line x1="549.88" y1="713.76" x2="674.68" y2="773.36"/><line x1="386.3" y1="726.2" x2="549.88" y2="681.56"/><line x1="549.88" y1="681.56" x2="674.68" y2="741.16"/><line x1="386.3" y1="694" x2="549.88" y2="649.36"/><line x1="549.88" y1="649.36" x2="674.68" y2="708.96"/><line x1="386.3" y1="661.8" x2="549.88" y2="617.16"/><line x1="549.88" y1="617.16" x2="674.68" y2="676.76"/><line x1="386.3" y1="629.6" x2="549.88" y2="584.96"/><line x1="549.88" y1="584.96" x2="674.68" y2="644.56"/></g>
<g stroke="#262626" stroke-width="0.5"><line x1="386.3" y1="758.4" x2="386.3" y2="629.6" stroke-width="0.55"/><line x1="386.3" y1="758.4" x2="511.1" y2="818" stroke-width="0.6"/><line x1="511.1" y1="818" x2="674.68" y2="773.36" stroke-width="0.6"/><line x1="386.3" y1="758.4" x2="382.42" y2="756.55" stroke-width="0.6"/><line x1="386.3" y1="726.2" x2="382.42" y2="724.35" stroke-width="0.6"/><line x1="386.3" y1="694" x2="382.42" y2="692.15" stroke-width="0.6"/><line x1="386.3" y1="661.8" x2="382.42" y2="659.95" stroke-width="0.6"/><line x1="386.3" y1="629.6" x2="382.42" y2="627.75" stroke-width="0.6"/><line x1="417.5" y1="773.3" x2="413.35" y2="774.43" stroke-width="0.6"/><line x1="448.7" y1="788.2" x2="444.55" y2="789.33" stroke-width="0.6"/><line x1="479.9" y1="803.1" x2="475.75" y2="804.23" stroke-width="0.6"/><line x1="524.73" y1="814.28" x2="528.61" y2="816.13" stroke-width="0.6"/><line x1="558.81" y1="804.98" x2="562.69" y2="806.83" stroke-width="0.6"/><line x1="592.89" y1="795.68" x2="596.77" y2="797.53" stroke-width="0.6"/><line x1="626.97" y1="786.38" x2="630.85" y2="788.23" stroke-width="0.6"/><line x1="661.05" y1="777.08" x2="664.93" y2="778.93" stroke-width="0.6"/></g>
<g stroke="#1a1a1a" stroke-width="0.42" stroke-linejoin="round"><polygon fill="#F9FB15" points="541.8,730.18 566.32,741.89 566.32,634.66 541.8,622.95"/><polygon fill="#F9FB15" points="566.32,741.89 593.11,734.58 593.11,627.35 566.32,634.66"/><polygon fill="#F9FB15" points="541.8,622.95 566.32,634.66 593.11,627.35 568.58,615.64"/><polygon fill="#C8C129" points="507.72,739.48 532.24,751.19 532.24,644.61 507.72,632.9"/><polygon fill="#C8C129" points="532.24,751.19 559.03,743.88 559.03,637.3 532.24,644.61"/><polygon fill="#C8C129" points="507.72,632.9 532.24,644.61 559.03,637.3 534.5,625.59"/><polygon fill="#12BEB9" points="473.64,748.78 498.16,760.49 498.16,653.43 473.64,641.71"/><polygon fill="#12BEB9" points="498.16,760.49 524.95,753.18 524.95,646.12 498.16,653.43"/><polygon fill="#12BEB9" points="473.64,641.71 498.16,653.43 524.95,646.12 500.42,634.4"/><polygon fill="#3080F8" points="439.56,758.08 464.08,769.79 464.08,661.76 439.56,650.05"/><polygon fill="#3080F8" points="464.08,769.79 490.87,762.48 490.87,654.45 464.08,661.76"/><polygon fill="#3080F8" points="439.56,650.05 464.08,661.76 490.87,654.45 466.34,642.74"/><polygon fill="#3E26A8" points="405.48,767.38 430,779.09 430,659.79 405.48,648.08"/><polygon fill="#3E26A8" points="430,779.09 456.79,771.78 456.79,652.48 430,659.79"/><polygon fill="#3E26A8" points="405.48,648.08 430,659.79 456.79,652.48 432.26,640.77"/><polygon fill="#F9FB15" points="573,745.08 597.52,756.79 597.52,655.36 573,643.65"/><polygon fill="#F9FB15" points="597.52,756.79 624.31,749.48 624.31,648.05 597.52,655.36"/><polygon fill="#F9FB15" points="573,643.65 597.52,655.36 624.31,648.05 599.78,636.34"/><polygon fill="#C8C129" points="538.92,754.38 563.44,766.09 563.44,665.14 538.92,653.43"/><polygon fill="#C8C129" points="563.44,766.09 590.23,758.78 590.23,657.83 563.44,665.14"/><polygon fill="#C8C129" points="538.92,653.43 563.44,665.14 590.23,657.83 565.7,646.12"/><polygon fill="#12BEB9" points="504.84,763.68 529.36,775.39 529.36,673.8 504.84,662.09"/><polygon fill="#12BEB9" points="529.36,775.39 556.15,768.08 556.15,666.49 529.36,673.8"/><polygon fill="#12BEB9" points="504.84,662.09 529.36,673.8 556.15,666.49 531.62,654.78"/><polygon fill="#3080F8" points="470.76,772.98 495.28,784.69 495.28,681.01 470.76,669.3"/><polygon fill="#3080F8" points="495.28,784.69 522.07,777.38 522.07,673.7 495.28,681.01"/><polygon fill="#3080F8" points="470.76,669.3 495.28,681.01 522.07,673.7 497.54,661.99"/><polygon fill="#3E26A8" points="436.68,782.28 461.2,793.99 461.2,679.84 436.68,668.13"/><polygon fill="#3E26A8" points="461.2,793.99 487.99,786.68 487.99,672.53 461.2,679.84"/><polygon fill="#3E26A8" points="436.68,668.13 461.2,679.84 487.99,672.53 463.46,660.82"/><polygon fill="#F9FB15" points="604.2,759.98 628.72,771.69 628.72,673 604.2,661.29"/><polygon fill="#F9FB15" points="628.72,771.69 655.51,764.38 655.51,665.69 628.72,673"/><polygon fill="#F9FB15" points="604.2,661.29 628.72,673 655.51,665.69 630.98,653.98"/><polygon fill="#C8C129" points="570.12,769.28 594.64,780.99 594.64,682.78 570.12,671.07"/><polygon fill="#C8C129" points="594.64,780.99 621.43,773.68 621.43,675.47 594.64,682.78"/><polygon fill="#C8C129" points="570.12,671.07 594.64,682.78 621.43,675.47 596.9,663.76"/><polygon fill="#12BEB9" points="536.04,778.58 560.56,790.29 560.56,693.53 536.04,681.82"/><polygon fill="#12BEB9" points="560.56,790.29 587.35,782.98 587.35,686.22 560.56,693.53"/><polygon fill="#12BEB9" points="536.04,681.82 560.56,693.53 587.35,686.22 562.82,674.51"/><polygon fill="#3080F8" points="501.96,787.88 526.48,799.59 526.48,703.15 501.96,691.44"/><polygon fill="#3080F8" points="526.48,799.59 553.27,792.28 553.27,695.84 526.48,703.15"/><polygon fill="#3080F8" points="501.96,691.44 526.48,703.15 553.27,695.84 528.74,684.13"/><polygon fill="#3E26A8" points="467.88,797.18 492.4,808.89 492.4,697.16 467.88,685.45"/><polygon fill="#3E26A8" points="492.4,808.89 519.19,801.58 519.19,689.85 492.4,697.16"/><polygon fill="#3E26A8" points="467.88,685.45 492.4,697.16 519.19,689.85 494.66,678.14"/></g>
<g font-family="'Liberation Sans',sans-serif" font-size="7.9" fill="#222" stroke="#222" stroke-width="0.1" text-rendering="geometricPrecision"><text x="379.6" y="758.6" text-anchor="end">0</text><text x="379.6" y="726.4" text-anchor="end">0.2</text><text x="379.6" y="694.2" text-anchor="end">0.4</text><text x="379.6" y="662" text-anchor="end">0.6</text><text x="379.6" y="629.8" text-anchor="end">0.8</text><text x="410.4" y="784.4" text-anchor="end">k</text><text x="441.6" y="799.3" text-anchor="end">3k</text><text x="472.8" y="814.2" text-anchor="end">5k</text><text x="531.83" y="825.18" text-anchor="start">0.1</text><text x="565.91" y="815.88" text-anchor="start">1</text><text x="599.99" y="806.58" text-anchor="start">10</text><text x="634.07" y="797.28" text-anchor="start">100</text><text x="668.15" y="787.98" text-anchor="start">1000</text><text transform="translate(362.6,695.5) rotate(-90)" text-anchor="middle">ACC</text><text x="454.3" y="826.4" text-anchor="middle">m</text><text x="586.29" y="831.08" text-anchor="middle" font-size="8.2" fill="#444" stroke="none">λ</text></g>
<text x="467.6" y="859.9" textLength="106.1" lengthAdjust="spacingAndGlyphs" letter-spacing="0.7" word-spacing="2.6" font-family="'Liberation Serif',serif" font-size="15.6" fill="#1c1c1c">(f) ALOI-100</text></g>
<g clip-path="url(#lc)"><g stroke="#e1e1e1" stroke-width="0.5"><line x1="47.78" y1="1048.32" x2="171.78" y2="1108.32"/><line x1="47.78" y1="1048.32" x2="47.78" y2="919.82"/><line x1="81.23" y1="1038.87" x2="205.23" y2="1098.87"/><line x1="81.23" y1="1038.87" x2="81.23" y2="910.37"/><line x1="114.68" y1="1029.42" x2="238.68" y2="1089.42"/><line x1="114.68" y1="1029.42" x2="114.68" y2="900.92"/><line x1="148.13" y1="1019.97" x2="272.13" y2="1079.97"/><line x1="148.13" y1="1019.97" x2="148.13" y2="891.47"/><line x1="181.58" y1="1010.52" x2="305.58" y2="1070.52"/><line x1="181.58" y1="1010.52" x2="181.58" y2="882.02"/><line x1="65.4" y1="1067.1" x2="225.96" y2="1021.74"/><line x1="225.96" y1="1021.74" x2="225.96" y2="893.24"/><line x1="96.4" y1="1082.1" x2="256.96" y2="1036.74"/><line x1="256.96" y1="1036.74" x2="256.96" y2="908.24"/><line x1="127.4" y1="1097.1" x2="287.96" y2="1051.74"/><line x1="287.96" y1="1051.74" x2="287.96" y2="923.24"/><line x1="34.4" y1="1052.1" x2="194.96" y2="1006.74"/><line x1="194.96" y1="1006.74" x2="318.96" y2="1066.74"/><line x1="34.4" y1="1026.4" x2="194.96" y2="981.04"/><line x1="194.96" y1="981.04" x2="318.96" y2="1041.04"/><line x1="34.4" y1="1000.7" x2="194.96" y2="955.34"/><line x1="194.96" y1="955.34" x2="318.96" y2="1015.34"/><line x1="34.4" y1="975" x2="194.96" y2="929.64"/><line x1="194.96" y1="929.64" x2="318.96" y2="989.64"/><line x1="34.4" y1="949.3" x2="194.96" y2="903.94"/><line x1="194.96" y1="903.94" x2="318.96" y2="963.94"/><line x1="34.4" y1="923.6" x2="194.96" y2="878.24"/><line x1="194.96" y1="878.24" x2="318.96" y2="938.24"/></g>
<g stroke="#262626" stroke-width="0.5"><line x1="34.4" y1="1052.1" x2="34.4" y2="923.6" stroke-width="0.55"/><line x1="34.4" y1="1052.1" x2="158.4" y2="1112.1" stroke-width="0.6"/><line x1="158.4" y1="1112.1" x2="318.96" y2="1066.74" stroke-width="0.6"/><line x1="34.4" y1="1052.1" x2="30.53" y2="1050.23" stroke-width="0.6"/><line x1="34.4" y1="1026.4" x2="30.53" y2="1024.53" stroke-width="0.6"/><line x1="34.4" y1="1000.7" x2="30.53" y2="998.83" stroke-width="0.6"/><line x1="34.4" y1="975" x2="30.53" y2="973.13" stroke-width="0.6"/><line x1="34.4" y1="949.3" x2="30.53" y2="947.43" stroke-width="0.6"/><line x1="34.4" y1="923.6" x2="30.53" y2="921.73" stroke-width="0.6"/><line x1="65.4" y1="1067.1" x2="61.26" y2="1068.27" stroke-width="0.6"/><line x1="96.4" y1="1082.1" x2="92.26" y2="1083.27" stroke-width="0.6"/><line x1="127.4" y1="1097.1" x2="123.26" y2="1098.27" stroke-width="0.6"/><line x1="171.78" y1="1108.32" x2="175.65" y2="1110.19" stroke-width="0.6"/><line x1="205.23" y1="1098.87" x2="209.1" y2="1100.74" stroke-width="0.6"/><line x1="238.68" y1="1089.42" x2="242.55" y2="1091.29" stroke-width="0.6"/><line x1="272.13" y1="1079.97" x2="276" y2="1081.84" stroke-width="0.6"/><line x1="305.58" y1="1070.52" x2="309.45" y2="1072.39" stroke-width="0.6"/></g>
<g stroke="#1a1a1a" stroke-width="0.42" stroke-linejoin="round"><polygon fill="#F9FB15" points="187.25,1023.34 211.62,1035.13 211.62,909.46 187.25,897.67"/><polygon fill="#F9FB15" points="211.62,1035.13 237.91,1027.7 237.91,902.03 211.62,909.46"/><polygon fill="#F9FB15" points="187.25,897.67 211.62,909.46 237.91,902.03 213.54,890.24"/><polygon fill="#C8C129" points="153.8,1032.79 178.17,1044.58 178.17,918.39 153.8,906.6"/><polygon fill="#C8C129" points="178.17,1044.58 204.46,1037.15 204.46,910.96 178.17,918.39"/><polygon fill="#C8C129" points="153.8,906.6 178.17,918.39 204.46,910.96 180.09,899.17"/><polygon fill="#12BEB9" points="120.35,1042.24 144.72,1054.03 144.72,928.1 120.35,916.31"/><polygon fill="#12BEB9" points="144.72,1054.03 171.01,1046.6 171.01,920.67 144.72,928.1"/><polygon fill="#12BEB9" points="120.35,916.31 144.72,928.1 171.01,920.67 146.64,908.88"/><polygon fill="#3080F8" points="86.9,1051.69 111.27,1063.48 111.27,934.98 86.9,923.19"/><polygon fill="#3080F8" points="111.27,1063.48 137.56,1056.05 137.56,927.55 111.27,934.98"/><polygon fill="#3080F8" points="86.9,923.19 111.27,934.98 137.56,927.55 113.19,915.76"/><polygon fill="#3E26A8" points="53.45,1061.14 77.82,1072.93 77.82,974.88 53.45,963.09"/><polygon fill="#3E26A8" points="77.82,1072.93 104.11,1065.5 104.11,967.46 77.82,974.88"/><polygon fill="#3E26A8" points="53.45,963.09 77.82,974.88 104.11,967.46 79.74,955.67"/><polygon fill="#F9FB15" points="218.25,1038.34 242.62,1050.13 242.62,926.13 218.25,914.34"/><polygon fill="#F9FB15" points="242.62,1050.13 268.91,1042.7 268.91,918.7 242.62,926.13"/><polygon fill="#F9FB15" points="218.25,914.34 242.62,926.13 268.91,918.7 244.54,906.91"/><polygon fill="#C8C129" points="184.8,1047.79 209.17,1059.58 209.17,937.12 184.8,925.33"/><polygon fill="#C8C129" points="209.17,1059.58 235.46,1052.15 235.46,929.69 209.17,937.12"/><polygon fill="#C8C129" points="184.8,925.33 209.17,937.12 235.46,929.69 211.09,917.9"/><polygon fill="#12BEB9" points="151.35,1057.24 175.72,1069.03 175.72,946.95 151.35,935.16"/><polygon fill="#12BEB9" points="175.72,1069.03 202.01,1061.6 202.01,939.53 175.72,946.95"/><polygon fill="#12BEB9" points="151.35,935.16 175.72,946.95 202.01,939.53 177.64,927.74"/><polygon fill="#3080F8" points="117.9,1066.69 142.27,1078.48 142.27,954.09 117.9,942.3"/><polygon fill="#3080F8" points="142.27,1078.48 168.56,1071.05 168.56,946.66 142.27,954.09"/><polygon fill="#3080F8" points="117.9,942.3 142.27,954.09 168.56,946.66 144.19,934.87"/><polygon fill="#3E26A8" points="84.45,1076.14 108.82,1087.93 108.82,971.64 84.45,959.85"/><polygon fill="#3E26A8" points="108.82,1087.93 135.11,1080.5 135.11,964.21 108.82,971.64"/><polygon fill="#3E26A8" points="84.45,959.85 108.82,971.64 135.11,964.21 110.74,952.42"/><polygon fill="#F9FB15" points="249.25,1053.34 273.62,1065.13 273.62,938.17 249.25,926.38"/><polygon fill="#F9FB15" points="273.62,1065.13 299.91,1057.7 299.91,930.74 273.62,938.17"/><polygon fill="#F9FB15" points="249.25,926.38 273.62,938.17 299.91,930.74 275.54,918.95"/><polygon fill="#C8C129" points="215.8,1062.79 240.17,1074.58 240.17,946.85 215.8,935.06"/><polygon fill="#C8C129" points="240.17,1074.58 266.46,1067.15 266.46,939.42 240.17,946.85"/><polygon fill="#C8C129" points="215.8,935.06 240.17,946.85 266.46,939.42 242.09,927.63"/><polygon fill="#12BEB9" points="182.35,1072.24 206.72,1084.03 206.72,958.1 182.35,946.31"/><polygon fill="#12BEB9" points="206.72,1084.03 233.01,1076.6 233.01,950.67 206.72,958.1"/><polygon fill="#12BEB9" points="182.35,946.31 206.72,958.1 233.01,950.67 208.64,938.88"/><polygon fill="#3080F8" points="148.9,1081.69 173.27,1093.48 173.27,963.69 148.9,951.9"/><polygon fill="#3080F8" points="173.27,1093.48 199.56,1086.05 199.56,956.27 173.27,963.69"/><polygon fill="#3080F8" points="148.9,951.9 173.27,963.69 199.56,956.27 175.19,944.48"/><polygon fill="#3E26A8" points="115.45,1091.14 139.82,1102.93 139.82,984.19 115.45,972.4"/><polygon fill="#3E26A8" points="139.82,1102.93 166.11,1095.5 166.11,976.77 139.82,984.19"/><polygon fill="#3E26A8" points="115.45,972.4 139.82,984.19 166.11,976.77 141.74,964.98"/></g>
<g font-family="'Liberation Sans',sans-serif" font-size="7.9" fill="#222" stroke="#222" stroke-width="0.1" text-rendering="geometricPrecision"><text x="27.7" y="1052.3" text-anchor="end">0</text><text x="27.7" y="1026.6" text-anchor="end">0.02</text><text x="27.7" y="1000.9" text-anchor="end">0.04</text><text x="27.7" y="975.2" text-anchor="end">0.06</text><text x="27.7" y="949.5" text-anchor="end">0.08</text><text x="27.7" y="923.8" text-anchor="end">0.1</text><text x="58.3" y="1078.2" text-anchor="end">k</text><text x="89.3" y="1093.2" text-anchor="end">3k</text><text x="120.3" y="1108.2" text-anchor="end">5k</text><text x="178.88" y="1119.22" text-anchor="start">0.1</text><text x="212.33" y="1109.77" text-anchor="start">1</text><text x="245.78" y="1100.32" text-anchor="start">10</text><text x="279.23" y="1090.87" text-anchor="start">100</text><text x="312.68" y="1081.42" text-anchor="start">1000</text><text transform="translate(7.3,989.35) rotate(-90)" text-anchor="middle">ACC</text><text x="102" y="1120.3" text-anchor="middle">m</text><text x="232.08" y="1124.82" text-anchor="middle" font-size="8.2" fill="#444" stroke="none">λ</text></g>
<text x="128.5" y="1152.5" textLength="70.9" lengthAdjust="spacingAndGlyphs" letter-spacing="0.7" word-spacing="2.6" font-family="'Liberation Serif',serif" font-size="15.6" fill="#1c1c1c">(g) AWA</text></g>
<g><g stroke="#e1e1e1" stroke-width="0.5"><line x1="399.93" y1="1047.48" x2="524.73" y2="1107.08"/><line x1="399.93" y1="1047.48" x2="399.93" y2="918.88"/><line x1="434.01" y1="1038.18" x2="558.81" y2="1097.78"/><line x1="434.01" y1="1038.18" x2="434.01" y2="909.58"/><line x1="468.09" y1="1028.88" x2="592.89" y2="1088.48"/><line x1="468.09" y1="1028.88" x2="468.09" y2="900.28"/><line x1="502.17" y1="1019.58" x2="626.97" y2="1079.18"/><line x1="502.17" y1="1019.58" x2="502.17" y2="890.98"/><line x1="536.25" y1="1010.28" x2="661.05" y2="1069.88"/><line x1="536.25" y1="1010.28" x2="536.25" y2="881.68"/><line x1="417.5" y1="1066.1" x2="581.08" y2="1021.46"/><line x1="581.08" y1="1021.46" x2="581.08" y2="892.86"/><line x1="448.7" y1="1081" x2="612.28" y2="1036.36"/><line x1="612.28" y1="1036.36" x2="612.28" y2="907.76"/><line x1="479.9" y1="1095.9" x2="643.48" y2="1051.26"/><line x1="643.48" y1="1051.26" x2="643.48" y2="922.66"/><line x1="386.3" y1="1051.2" x2="549.88" y2="1006.56"/><line x1="549.88" y1="1006.56" x2="674.68" y2="1066.16"/><line x1="386.3" y1="1019.05" x2="549.88" y2="974.41"/><line x1="549.88" y1="974.41" x2="674.68" y2="1034.01"/><line x1="386.3" y1="986.9" x2="549.88" y2="942.26"/><line x1="549.88" y1="942.26" x2="674.68" y2="1001.86"/><line x1="386.3" y1="954.75" x2="549.88" y2="910.11"/><line x1="549.88" y1="910.11" x2="674.68" y2="969.71"/><line x1="386.3" y1="922.6" x2="549.88" y2="877.96"/><line x1="549.88" y1="877.96" x2="674.68" y2="937.56"/></g>
<g stroke="#262626" stroke-width="0.5"><line x1="386.3" y1="1051.2" x2="386.3" y2="922.6" stroke-width="0.55"/><line x1="386.3" y1="1051.2" x2="511.1" y2="1110.8" stroke-width="0.6"/><line x1="511.1" y1="1110.8" x2="674.68" y2="1066.16" stroke-width="0.6"/><line x1="386.3" y1="1051.2" x2="382.42" y2="1049.35" stroke-width="0.6"/><line x1="386.3" y1="1019.05" x2="382.42" y2="1017.2" stroke-width="0.6"/><line x1="386.3" y1="986.9" x2="382.42" y2="985.05" stroke-width="0.6"/><line x1="386.3" y1="954.75" x2="382.42" y2="952.9" stroke-width="0.6"/><line x1="386.3" y1="922.6" x2="382.42" y2="920.75" stroke-width="0.6"/><line x1="417.5" y1="1066.1" x2="413.35" y2="1067.23" stroke-width="0.6"/><line x1="448.7" y1="1081" x2="444.55" y2="1082.13" stroke-width="0.6"/><line x1="479.9" y1="1095.9" x2="475.75" y2="1097.03" stroke-width="0.6"/><line x1="524.73" y1="1107.08" x2="528.61" y2="1108.93" stroke-width="0.6"/><line x1="558.81" y1="1097.78" x2="562.69" y2="1099.63" stroke-width="0.6"/><line x1="592.89" y1="1088.48" x2="596.77" y2="1090.33" stroke-width="0.6"/><line x1="626.97" y1="1079.18" x2="630.85" y2="1081.03" stroke-width="0.6"/><line x1="661.05" y1="1069.88" x2="664.93" y2="1071.73" stroke-width="0.6"/></g>
<g stroke="#1a1a1a" stroke-width="0.42" stroke-linejoin="round"><polygon fill="#F9FB15" points="541.8,1022.98 566.32,1034.69 566.32,986.47 541.8,974.75"/><polygon fill="#F9FB15" points="566.32,1034.69 593.11,1027.38 593.11,979.16 566.32,986.47"/><polygon fill="#F9FB15" points="541.8,974.75 566.32,986.47 593.11,979.16 568.58,967.44"/><polygon fill="#C8C129" points="507.72,1032.28 532.24,1043.99 532.24,995.77 507.72,984.05"/><polygon fill="#C8C129" points="532.24,1043.99 559.03,1036.68 559.03,988.46 532.24,995.77"/><polygon fill="#C8C129" points="507.72,984.05 532.24,995.77 559.03,988.46 534.5,976.74"/><polygon fill="#12BEB9" points="473.64,1041.58 498.16,1053.29 498.16,1002.17 473.64,990.46"/><polygon fill="#12BEB9" points="498.16,1053.29 524.95,1045.98 524.95,994.86 498.16,1002.17"/><polygon fill="#12BEB9" points="473.64,990.46 498.16,1002.17 524.95,994.86 500.42,983.15"/><polygon fill="#3080F8" points="439.56,1050.88 464.08,1062.59 464.08,1013.4 439.56,1001.69"/><polygon fill="#3080F8" points="464.08,1062.59 490.87,1055.28 490.87,1006.09 464.08,1013.4"/><polygon fill="#3080F8" points="439.56,1001.69 464.08,1013.4 490.87,1006.09 466.34,994.38"/><polygon fill="#3E26A8" points="405.48,1060.18 430,1071.89 430,1025.92 405.48,1014.2"/><polygon fill="#3E26A8" points="430,1071.89 456.79,1064.58 456.79,1018.61 430,1025.92"/><polygon fill="#3E26A8" points="405.48,1014.2 430,1025.92 456.79,1018.61 432.26,1006.89"/><polygon fill="#F9FB15" points="573,1037.88 597.52,1049.59 597.52,972.43 573,960.72"/><polygon fill="#F9FB15" points="597.52,1049.59 624.31,1042.28 624.31,965.12 597.52,972.43"/><polygon fill="#F9FB15" points="573,960.72 597.52,972.43 624.31,965.12 599.78,953.41"/><polygon fill="#C8C129" points="538.92,1047.18 563.44,1058.89 563.44,984.95 538.92,973.23"/><polygon fill="#C8C129" points="563.44,1058.89 590.23,1051.58 590.23,977.64 563.44,984.95"/><polygon fill="#C8C129" points="538.92,973.23 563.44,984.95 590.23,977.64 565.7,965.92"/><polygon fill="#12BEB9" points="504.84,1056.48 529.36,1068.19 529.36,997.46 504.84,985.75"/><polygon fill="#12BEB9" points="529.36,1068.19 556.15,1060.88 556.15,990.15 529.36,997.46"/><polygon fill="#12BEB9" points="504.84,985.75 529.36,997.46 556.15,990.15 531.62,978.44"/><polygon fill="#3080F8" points="470.76,1065.78 495.28,1077.49 495.28,1005.8 470.76,994.08"/><polygon fill="#3080F8" points="495.28,1077.49 522.07,1070.18 522.07,998.49 495.28,1005.8"/><polygon fill="#3080F8" points="470.76,994.08 495.28,1005.8 522.07,998.49 497.54,986.77"/><polygon fill="#3E26A8" points="436.68,1075.08 461.2,1086.79 461.2,1026.99 436.68,1015.28"/><polygon fill="#3E26A8" points="461.2,1086.79 487.99,1079.48 487.99,1019.68 461.2,1026.99"/><polygon fill="#3E26A8" points="436.68,1015.28 461.2,1026.99 487.99,1019.68 463.46,1007.97"/><polygon fill="#F9FB15" points="604.2,1052.78 628.72,1064.49 628.72,953.41 604.2,941.7"/><polygon fill="#F9FB15" points="628.72,1064.49 655.51,1057.18 655.51,946.1 628.72,953.41"/><polygon fill="#F9FB15" points="604.2,941.7 628.72,953.41 655.51,946.1 630.98,934.39"/><polygon fill="#C8C129" points="570.12,1062.08 594.64,1073.79 594.64,962.23 570.12,950.52"/><polygon fill="#C8C129" points="594.64,1073.79 621.43,1066.48 621.43,954.92 594.64,962.23"/><polygon fill="#C8C129" points="570.12,950.52 594.64,962.23 621.43,954.92 596.9,943.21"/><polygon fill="#12BEB9" points="536.04,1071.38 560.56,1083.09 560.56,978.44 536.04,966.73"/><polygon fill="#12BEB9" points="560.56,1083.09 587.35,1075.78 587.35,971.13 560.56,978.44"/><polygon fill="#12BEB9" points="536.04,966.73 560.56,978.44 587.35,971.13 562.82,959.42"/><polygon fill="#3080F8" points="501.96,1080.68 526.48,1092.39 526.48,989.51 501.96,977.8"/><polygon fill="#3080F8" points="526.48,1092.39 553.27,1085.08 553.27,982.2 526.48,989.51"/><polygon fill="#3080F8" points="501.96,977.8 526.48,989.51 553.27,982.2 528.74,970.49"/><polygon fill="#3E26A8" points="467.88,1089.98 492.4,1101.69 492.4,1019.23 467.88,1007.51"/><polygon fill="#3E26A8" points="492.4,1101.69 519.19,1094.38 519.19,1011.92 492.4,1019.23"/><polygon fill="#3E26A8" points="467.88,1007.51 492.4,1019.23 519.19,1011.92 494.66,1000.2"/></g>
<g font-family="'Liberation Sans',sans-serif" font-size="7.9" fill="#222" stroke="#222" stroke-width="0.1" text-rendering="geometricPrecision"><text x="379.6" y="1051.4" text-anchor="end">0</text><text x="379.6" y="1019.25" text-anchor="end">0.1</text><text x="379.6" y="987.1" text-anchor="end">0.2</text><text x="379.6" y="954.95" text-anchor="end">0.3</text><text x="379.6" y="922.8" text-anchor="end">0.4</text><text x="410.4" y="1077.2" text-anchor="end">k</text><text x="441.6" y="1092.1" text-anchor="end">3k</text><text x="472.8" y="1107" text-anchor="end">5k</text><text x="531.83" y="1117.98" text-anchor="start">0.1</text><text x="565.91" y="1108.68" text-anchor="start">1</text><text x="599.99" y="1099.38" text-anchor="start">10</text><text x="634.07" y="1090.08" text-anchor="start">100</text><text x="668.15" y="1080.78" text-anchor="start">1000</text><text transform="translate(362.6,988.4) rotate(-90)" text-anchor="middle">ACC</text><text x="454.3" y="1119.2" text-anchor="middle">m</text><text x="586.29" y="1123.88" text-anchor="middle" font-size="8.2" fill="#444" stroke="none">λ</text></g>
<text x="451.7" y="1151.9" textLength="137.6" lengthAdjust="spacingAndGlyphs" letter-spacing="0.7" word-spacing="2.6" font-family="'Liberation Serif',serif" font-size="15.6" fill="#1c1c1c">(h) YouTubeFace</text></g>
</svg></body></html>
